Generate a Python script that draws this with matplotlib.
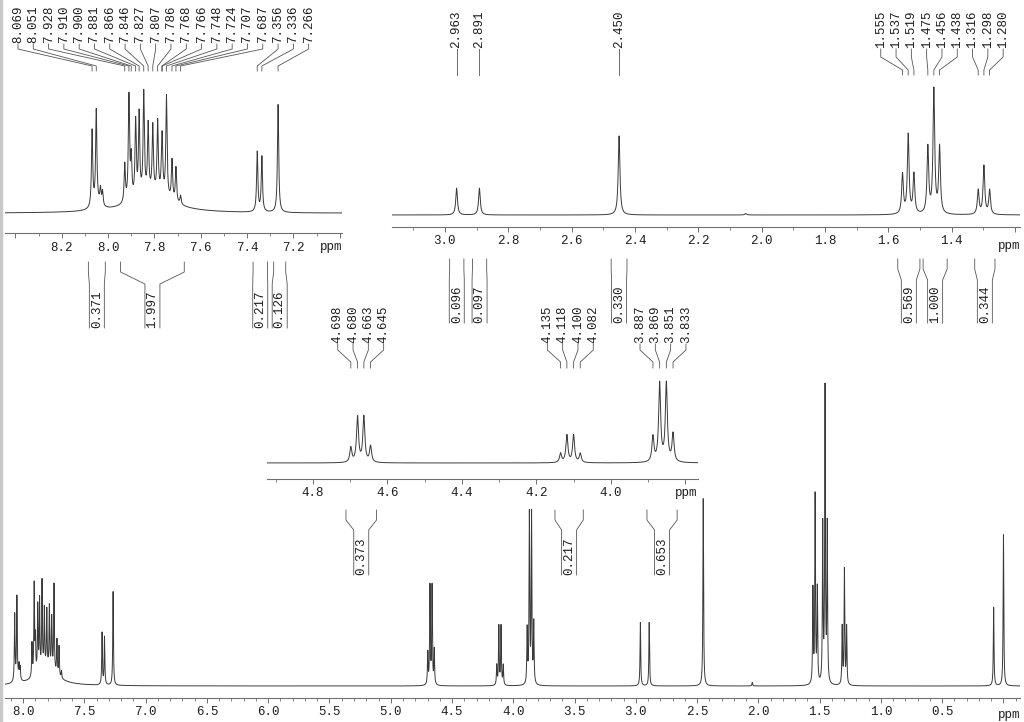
import numpy as np
import matplotlib
matplotlib.use("Agg")
import matplotlib.pyplot as plt

W, H = 1024, 722

# ---- values (heights in units where 1.456 ppm ~ 100) ----
peak_ppm = [8.069, 8.051, 8.033, 8.024,
            7.928, 7.910, 7.900, 7.881, 7.866, 7.846, 7.827, 7.807, 7.786,
            7.768, 7.766, 7.748, 7.724, 7.707, 7.687,
            7.356, 7.336, 7.266,
            4.698, 4.680, 4.663, 4.645,
            4.135, 4.118, 4.100, 4.082,
            3.887, 3.869, 3.851, 3.833,
            2.963, 2.891, 2.450, 2.050,
            1.555, 1.537, 1.519, 1.475, 1.456, 1.438,
            1.316, 1.298, 1.280, 0.080, 0.000]
peak_height = [22.0, 27.0, 4.5, 4.0,
               11.0, 30.0, 11.5, 22.0, 23.5, 29.0, 19.5, 19.0, 20.5,
               9.5, 9.5, 29.0, 11.5, 10.0, 2.5,
               17.2, 15.8, 31.0,
               10.5, 32.5, 32.5, 11.5,
               6.5, 19.5, 19.5, 6.5,
               18.0, 56.0, 56.0, 20.0,
               21.0, 21.0, 62.0, 1.2,
               31.0, 62.0, 31.0, 52.0, 97.0, 52.0,
               19.0, 38.0, 19.0, 26.0, 50.0]
line_hwhm = 0.0032
hump_ppm = [7.81, 8.045]
hump_height = [5.5, 1.5]
hump_hwhm = [0.1, 0.02]

tl_labels = [8.069, 8.051, 7.928, 7.910, 7.900, 7.881, 7.866, 7.846, 7.827, 7.807,
             7.786, 7.768, 7.766, 7.748, 7.724, 7.707, 7.687, 7.356, 7.336, 7.266]
tm_labels = [2.963, 2.891, 2.450, 1.555, 1.537, 1.519, 1.475, 1.456, 1.438,
             1.316, 1.298, 1.280]
mid_labels = [4.698, 4.680, 4.663, 4.645, 4.135, 4.118, 4.100, 4.082,
              3.887, 3.869, 3.851, 3.833]

tl_int_from = [8.085, 7.946, 7.374, 7.285]
tl_int_to = [8.012, 7.671, 7.312, 7.233]
tl_int_val = ["0.371", "1.997", "0.217", "0.126"]

tm_int_from = [2.985, 2.913, 2.475, 1.570, 1.490, 1.327]
tm_int_to = [2.940, 2.868, 2.425, 1.500, 1.414, 1.263]
tm_int_val = ["0.096", "0.097", "0.330", "0.569", "1.000", "0.344"]

mid_int_from = [4.711, 4.150, 3.903]
mid_int_to = [4.629, 4.074, 3.822]
mid_int_val = ["0.373", "0.217", "0.653"]

plt.rcParams['font.family'] = ['Liberation Mono', 'DejaVu Sans Mono']
TXT = '#1e1e1e'
LINE = '#3a3a3a'
AX = '#707070'
FS = 9

ppm = np.linspace(8.7, -0.3, 45000)
spec = np.zeros_like(ppm)
for c, h in zip(peak_ppm, peak_height):
    spec += h / (1 + ((ppm - c) / line_hwhm) ** 2)
for c, h, w in zip(hump_ppm, hump_height, hump_hwhm):
    spec += h / (1 + ((ppm - c) / w) ** 2)

fig = plt.figure(figsize=(W / 100, H / 100), dpi=100)


def panel(x0, x1, top, spine, base, peak_top, left, right, majors, minors, skip):
    ax = fig.add_axes([x0 / W, 1 - spine / H, (x1 - x0) / W, (spine - top) / H])
    ax.patch.set_alpha(0)
    sel = (ppm <= left) & (ppm >= right)
    m = spec[sel].max()
    sc = (base - peak_top) / m
    ax.plot(ppm, spec, color=LINE, lw=0.7)
    ax.set_xlim(left, right)
    ax.set_ylim(-(spine - base) / sc, (base - top) / sc)
    for s in ['top', 'left', 'right']:
        ax.spines[s].set_visible(False)
    ax.spines['bottom'].set_color(AX)
    ax.spines['bottom'].set_linewidth(0.8)
    ax.set_yticks([])
    ax.set_xticks(majors)
    ax.set_xticklabels(['' if i in skip else f"{v:.1f}" for i, v in enumerate(majors)])
    ax.set_xticks(minors, minor=True)
    ax.tick_params(axis='x', which='major', length=3.6, width=0.7, color=AX,
                   pad=2.5, labelsize=FS, labelcolor=TXT)
    ax.tick_params(axis='x', which='minor', length=2.0, width=0.6, color=AX)
    return ax


def ticks(a, b, step):
    n = int(round((a - b) / step))
    return [round(a - i * step, 2) for i in range(n + 1)]


ax_tl = panel(5, 342, 60, 233.3, 213.3, 89.3, 8.445, 6.99,
              ticks(8.4, 7.0, 0.2), ticks(8.3, 7.1, 0.2), [0, 7])
ax_tm = panel(392, 1020, 60, 227, 215, 87, 3.167, 1.184,
              ticks(3.0, 1.2, 0.2), ticks(3.1, 1.3, 0.2), [9])
ax_mid = panel(267, 698, 370, 479, 463, 381, 4.923, 3.766,
               ticks(4.8, 3.8, 0.2), ticks(4.9, 3.9, 0.2), [5])
ax_main = panel(5, 1020, 300, 698, 686, 383, 8.148, -0.135,
                ticks(8.0, 0.0, 0.5), ticks(8.1, -0.1, 0.1), [16])

# overlay in image pixel coordinates
ov = fig.add_axes([0, 0, 1, 1])
ov.set_xlim(0, W)
ov.set_ylim(H, 0)
ov.axis('off')
ov.patch.set_alpha(0)

ov.plot([1, 1], [0, H], color='#c8c8c8', lw=2.5)


def px(ax, p):
    return ax.transData.transform([[p, 0]])[0, 0]


def spread(xs, gap):
    groups = [[x] for x in xs]
    merged = True
    while merged:
        merged = False
        for i in range(len(groups) - 1):
            a, b = groups[i], groups[i + 1]
            ea = np.mean(a) + (len(a) - 1) / 2 * gap
            sb = np.mean(b) - (len(b) - 1) / 2 * gap
            if sb - ea < gap:
                groups[i] = a + b
                del groups[i + 1]
                merged = True
                break
    out = []
    for g in groups:
        c = np.mean(g)
        out += [c + (k - (len(g) - 1) / 2) * gap for k in range(len(g))]
    return out


def peak_labels(ax, vals, ys, gap=15.3):
    ya, yb, yc, yd = ys
    pxs = [px(ax, v) for v in vals]
    lxs = spread(pxs, gap)
    for v, p, lx in zip(vals, pxs, lxs):
        ov.plot([lx, lx, p, p], [ya + 1, yb, yc, yd], color='#555555', lw=0.6)
        ov.text(lx, ya, f"{v:.3f}", rotation=90, ha='center', va='bottom',
                fontsize=FS, color=TXT)


def integrals(ax, starts, ends, vals, ys, half=7.5):
    y0, y1, y2, y3 = ys
    for a, b, t in zip(starts, ends, vals):
        xa, xb = px(ax, a), px(ax, b)
        xc = (xa + xb) / 2
        ov.plot([xa, xa, xc - half, xc - half], [y0, y1, y2, y3], color='#555555', lw=0.6)
        ov.plot([xb, xb, xc + half, xc + half], [y0, y1, y2, y3], color='#555555', lw=0.6)
        ov.text(xc, y3, t, rotation=90, ha='center', va='bottom', fontsize=FS, color=TXT)


peak_labels(ax_tl, tl_labels, (43, 49, 66, 71))
peak_labels(ax_tm, tm_labels, (48, 57, 70, 75))
peak_labels(ax_mid, mid_labels, (343, 350, 362, 368))

integrals(ax_tl, tl_int_from, tl_int_to, tl_int_val, (262, 272, 284, 328))
integrals(ax_tm, tm_int_from, tm_int_to, tm_int_val, (259, 269, 280, 323))
integrals(ax_mid, mid_int_from, mid_int_to, mid_int_val, (510, 520, 530, 575))

# "ppm" unit at the right end of each axis
for ax, xr, yl in [(ax_tl, 342, 247), (ax_tm, 1020, 246), (ax_mid, 697, 493), (ax_main, 1020, 715)]:
    ov.text(xr, yl, "ppm", ha='right', va='center', fontsize=FS, color=TXT)

fig.savefig("out.png", dpi=100)
